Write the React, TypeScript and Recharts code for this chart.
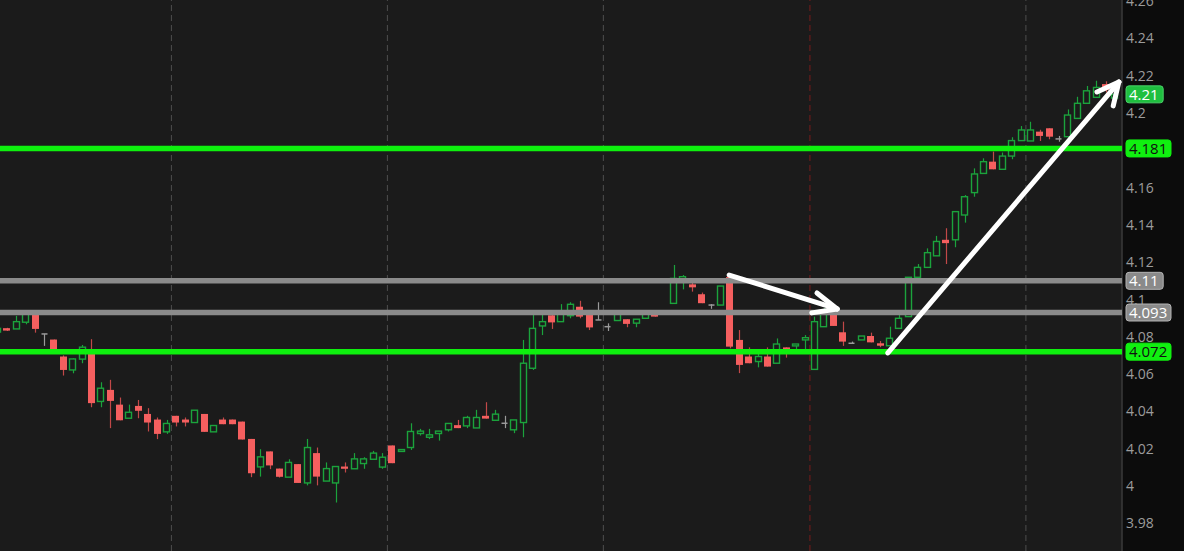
import React from 'react';
import { ComposedChart, Bar, XAxis, YAxis, ReferenceLine } from 'recharts';

// hourly candles (index 0 is the partly hidden one at the left edge)
const opens = [
  4.0825, 4.0846, 4.0842, 4.0878, 4.0926, 4.0815, 4.0785, 4.0694, 4.0622, 4.068,
  4.0733, 4.0453, 4.0515, 4.0436, 4.0363, 4.0429, 4.0386, 4.0356, 4.029, 4.0376,
  4.0356, 4.034, 4.0386, 4.029, 4.0356, 4.0356, 4.0345, 4.0252, 4.0102, 4.0185,
  4.0093, 4.0047, 4.0117, 4.0016, 4.0176, 4.0026, 4.0016, 4.0104, 4.0092, 4.012,
  4.0143, 4.0101, 4.0217, 4.0185, 4.0206, 4.0281, 4.0261, 4.0281, 4.0301, 4.0326,
  4.0322, 4.0311, 4.0376, 4.0352, 4.0336, 4.0301, 4.034, 4.0631, 4.0858, 4.0915,
  4.0881, 4.0913, 4.0961, 4.0925, 4.089, 4.0854, 4.0887, 4.0894, 4.0873, 4.0899,
  4.0925, 4.0925, 4.0979, 4.1108, 4.1081, 4.1028, 4.097, 4.097, 4.112, 4.0783,
  4.0694, 4.0667, 4.0694, 4.0658, 4.0743, 4.0751, 4.0783, 4.0625, 4.0854, 4.0926,
  4.0824, 4.0765, 4.0783, 4.0804, 4.0765, 4.0752, 4.0845, 4.0908, 4.1119, 4.1172,
  4.1234, 4.132, 4.132, 4.1453, 4.1573, 4.1676, 4.1739, 4.1698, 4.1769, 4.1852,
  4.185, 4.19, 4.1918, 4.1861, 4.1873, 4.1971, 4.2052, 4.2084, 4.2155, 4.208,
];
const highs = [
  4.085, 4.0848, 4.0912, 4.094, 4.094, 4.0815, 4.0785, 4.07, 4.0685, 4.0756,
  4.0787, 4.0556, 4.0569, 4.0474, 4.0436, 4.0461, 4.0417, 4.0367, 4.0354, 4.0376,
  4.0367, 4.0406, 4.0386, 4.0324, 4.0367, 4.0356, 4.0345, 4.0252, 4.0197, 4.0185,
  4.0093, 4.0143, 4.0117, 4.0252, 4.0206, 4.0126, 4.0104, 4.0126, 4.0176, 4.0154,
  4.0188, 4.0176, 4.0217, 4.0195, 4.0336, 4.0306, 4.0306, 4.0294, 4.0335, 4.0354,
  4.0376, 4.0408, 4.0449, 4.0408, 4.0376, 4.0354, 4.0783, 4.0925, 4.0925, 4.092,
  4.0975, 4.0985, 4.0993, 4.093, 4.0985, 4.0872, 4.0925, 4.0894, 4.0894, 4.0922,
  4.0925, 4.093, 4.1185, 4.1131, 4.109, 4.1037, 4.0975, 4.1072, 4.112, 4.0836,
  4.0743, 4.0725, 4.0743, 4.0791, 4.0743, 4.0761, 4.0809, 4.0908, 4.0953, 4.093,
  4.0881, 4.0774, 4.0804, 4.0822, 4.0777, 4.0854, 4.0917, 4.1119, 4.119, 4.1274,
  4.1341, 4.1382, 4.1471, 4.156, 4.1703, 4.1757, 4.1793, 4.1788, 4.187, 4.193,
  4.1953, 4.191, 4.1918, 4.1877, 4.2019, 4.2087, 4.2145, 4.2173, 4.217, 4.211,
];
const lows = [
  4.082, 4.0831, 4.0842, 4.0867, 4.0822, 4.0751, 4.072, 4.0592, 4.0604, 4.0658,
  4.0422, 4.0422, 4.031, 4.0352, 4.0363, 4.0363, 4.0292, 4.0251, 4.0279, 4.0319,
  4.0319, 4.034, 4.029, 4.029, 4.0331, 4.0331, 4.0249, 4.0047, 4.005, 4.009,
  4.0045, 4.0047, 4.0016, 4.0003, 4.0003, 4.0026, 3.9911, 4.0072, 4.0092, 4.0092,
  4.0143, 4.0092, 4.0122, 4.0185, 4.0193, 4.027, 4.0251, 4.0243, 4.0292, 4.031,
  4.031, 4.0311, 4.0361, 4.0352, 4.031, 4.0283, 4.0261, 4.0622, 4.0809, 4.0842,
  4.0881, 4.0899, 4.0899, 4.0836, 4.089, 4.0831, 4.0887, 4.0851, 4.0851, 4.0899,
  4.0908, 4.092, 4.0979, 4.1054, 4.1042, 4.098, 4.095, 4.097, 4.0738, 4.0605,
  4.0658, 4.0636, 4.064, 4.0658, 4.0688, 4.073, 4.073, 4.0625, 4.0854, 4.0858,
  4.0751, 4.0765, 4.0783, 4.077, 4.0744, 4.0752, 4.0845, 4.0908, 4.1119, 4.1172,
  4.1234, 4.119, 4.128, 4.1412, 4.1551, 4.1676, 4.1698, 4.1698, 4.1752, 4.1852,
  4.185, 4.185, 4.1859, 4.1846, 4.1873, 4.1971, 4.2052, 4.2084, 4.211, 4.2075,
];
const closes = [
  4.0845, 4.0833, 4.0881, 4.0926, 4.0842, 4.0815, 4.0724, 4.0622, 4.0681, 4.0744,
  4.0444, 4.0524, 4.0456, 4.0352, 4.0395, 4.0403, 4.034, 4.0279, 4.0335, 4.034,
  4.034, 4.0406, 4.029, 4.0324, 4.0331, 4.0331, 4.0249, 4.0068, 4.0156, 4.011,
  4.0049, 4.0126, 4.0016, 4.0206, 4.005, 4.0093, 4.0104, 4.0092, 4.0145, 4.0145,
  4.0176, 4.0154, 4.0122, 4.0195, 4.0292, 4.0294, 4.0274, 4.0294, 4.0335, 4.031,
  4.0367, 4.0367, 4.0361, 4.0385, 4.0336, 4.0354, 4.0658, 4.0845, 4.0881, 4.0877,
  4.0922, 4.0974, 4.0908, 4.085, 4.089, 4.0854, 4.0922, 4.0869, 4.0894, 4.0922,
  4.0908, 4.0925, 4.1113, 4.1122, 4.1065, 4.098, 4.097, 4.1072, 4.0747, 4.0649,
  4.0658, 4.0694, 4.064, 4.0761, 4.0724, 4.0761, 4.0795, 4.0881, 4.0926, 4.0858,
  4.0774, 4.0765, 4.0804, 4.077, 4.0752, 4.0792, 4.0899, 4.1119, 4.1172, 4.1251,
  4.1311, 4.1302, 4.1471, 4.1551, 4.1673, 4.1739, 4.1698, 4.1769, 4.1852, 4.1909,
  4.1909, 4.1877, 4.1873, 4.1861, 4.1989, 4.2052, 4.2119, 4.2137, 4.2123, 4.21,
];

const yTicks = [3.98, 4, 4.02, 4.04, 4.06, 4.08, 4.1, 4.12, 4.14, 4.16, 4.18, 4.2, 4.22, 4.24, 4.26];
const sessionBreaks = [18.5, 41.5, 64.5, 109.5];
const dayBreak = 86.5;
const greenLevels = [4.181, 4.072];
const grayLevels = [4.11, 4.093];
const lastPrice = 4.21;

// hand drawn arrows, as [x(bar index), price] points
const arrowDown = [[77.9, 4.1131], [89.4, 4.0949]];
const arrowDownHead = [[87.25, 4.1035], [86.7, 4.0928]];
const arrowUp = [[94.8, 4.0713], [119.4, 4.2166]];
const arrowUpHead = [[117.07, 4.2113], [118.8, 4.2038]];

const X_MIN = 0.245;
const X_MAX = 119.735;
const Y_MIN = 3.9651;
const Y_MAX = 4.2606;

const BG = '#1b1b1b';
const AXIS_BG = '#0c0c0c';
const UP = '#1ba33c';
const DOWN = '#f55f5f';
const DOWN_WICK = '#c24848';
const FLAT = '#9a9a9a';
const LEVEL_GREEN = '#0ef00e';
const LEVEL_GRAY = '#8b8b8b';
const FONT = "'Open Sans', 'Noto Sans', sans-serif";

const data = opens.map((o, i) => ({
  i,
  open: o,
  high: highs[i],
  low: lows[i],
  close: closes[i],
  range: [lows[i], highs[i]],
}));

function Candle(props: any) {
  const { x, y, width, height, payload } = props;
  if (x == null || y == null) return null;
  const { open, close, high, low } = payload;
  const span = high - low || 1;
  const toY = (v: number) => y + ((high - v) / span) * height;
  const cx = Math.round(x + width / 2) + 0.5;
  const top = toY(Math.max(open, close));
  const bottom = toY(Math.min(open, close));
  const left = Math.round(x) + 0.5;
  const w = Math.round(width) - 1;

  if (close === open) {
    return (
      <g>
        <line x1={cx} x2={cx} y1={y} y2={y + height} stroke={FLAT} strokeWidth={1.2} />
        <line x1={left} x2={left + w} y1={top} y2={top} stroke={FLAT} strokeWidth={1.5} />
      </g>
    );
  }
  if (close > open) {
    return (
      <g>
        <line x1={cx} x2={cx} y1={y} y2={top} stroke={UP} strokeWidth={1.2} />
        <line x1={cx} x2={cx} y1={bottom} y2={y + height} stroke={UP} strokeWidth={1.2} />
        <rect x={left} y={top} width={w} height={Math.max(bottom - top, 1)} fill={BG} stroke={UP} strokeWidth={1.4} />
      </g>
    );
  }
  return (
    <g>
      <line x1={cx} x2={cx} y1={y} y2={y + height} stroke={DOWN_WICK} strokeWidth={1.2} />
      <rect x={left - 0.5} y={top} width={w + 1} height={Math.max(bottom - top, 1.5)} fill={DOWN} />
    </g>
  );
}

function PriceTag(props: any) {
  const { viewBox, text, bg, fg, border } = props;
  if (!viewBox) return null;
  const x = viewBox.x + viewBox.width + 4;
  const y = viewBox.y;
  const w = 6 + text.length * 7.8;
  return (
    <g>
      <rect x={x} y={y - 8.5} width={w} height={17} rx={3} fill={bg} stroke={border} strokeWidth={1} />
      <text x={x + 3} y={y} dy="0.36em" fill={fg} fontSize={15} fontFamily={FONT}>
        {text}
      </text>
    </g>
  );
}

// axis tick: drawn by the axis, the price tags are laid over it
function PriceTick(props: any) {
  const { x, y, payload } = props;
  return (
    <text x={x} y={y} dy="0.36em" fill="#9c9c9c" fontSize={14} fontFamily={FONT} textAnchor="start">
      {String(+payload.value.toFixed(2))}
    </text>
  );
}

const seg = (pts: number[][]) => pts.map(([x, y]) => ({ x, y }));

export default function App() {
  return (
    <div
      style={{
        position: 'fixed',
        left: 0,
        top: 0,
        width: 1184,
        height: 551,
        background: `linear-gradient(to right, ${BG} 1122px, ${AXIS_BG} 1122px)`,
      }}
    >
      <ComposedChart width={1184} height={551} data={data} margin={{ top: 0, right: 0, bottom: 0, left: 0 }}>
        <XAxis dataKey="i" type="number" domain={[X_MIN, X_MAX]} allowDataOverflow hide />
        <YAxis
          orientation="right"
          width={62}
          type="number"
          domain={[Y_MIN, Y_MAX]}
          allowDataOverflow
          ticks={yTicks}
          interval={0}
          tickLine={false}
          tickSize={0}
          tickMargin={4}
          axisLine={{ stroke: '#3a3a3a', strokeWidth: 1.5 }}
          tick={<PriceTick />}
          zIndex={100}
        />

        {sessionBreaks.map(x => (
          <ReferenceLine key={x} x={x} stroke="#4e4e4e" strokeDasharray="6 4" strokeWidth={1} />
        ))}
        <ReferenceLine x={dayBreak} stroke="#6a1c1c" strokeDasharray="6 4" strokeWidth={1.2} />

        <Bar dataKey="range" barSize={7} shape={<Candle />} isAnimationActive={false} />

        {grayLevels.map(v => (
          <ReferenceLine
            key={v}
            y={v}
            stroke={LEVEL_GRAY}
            strokeWidth={5.5}
            zIndex={3000}
            label={<PriceTag text={String(v)} bg="#8a8a8a" fg="#ffffff" border="#b4b4b4" />}
          />
        ))}
        {greenLevels.map(v => (
          <ReferenceLine
            key={v}
            y={v}
            stroke={LEVEL_GREEN}
            strokeWidth={5.5}
            zIndex={3000}
            label={<PriceTag text={String(v)} bg="#10f010" fg="#111111" border="#10f010" />}
          />
        ))}
        <ReferenceLine
          y={lastPrice}
          stroke="none"
          zIndex={3000}
          label={<PriceTag text={String(lastPrice)} bg="#1fbf3f" fg="#ffffff" border="#4ad068" />}
        />

        {[arrowDown, arrowUp].map((pts, k) => (
          <ReferenceLine
            key={'a' + k}
            segment={seg(pts)}
            stroke="#ffffff"
            strokeWidth={5}
            strokeLinecap="round"
            zIndex={3000}
          />
        ))}
        {[arrowDownHead, arrowUpHead].flatMap((heads, k) => {
          const tip = [arrowDown, arrowUp][k][1];
          return heads.map((h, j) => (
            <ReferenceLine
              key={'h' + k + j}
              segment={seg([tip, h])}
              stroke="#ffffff"
              strokeWidth={5}
              strokeLinecap="round"
              zIndex={3000}
            />
          ));
        })}
      </ComposedChart>
    </div>
  );
}
